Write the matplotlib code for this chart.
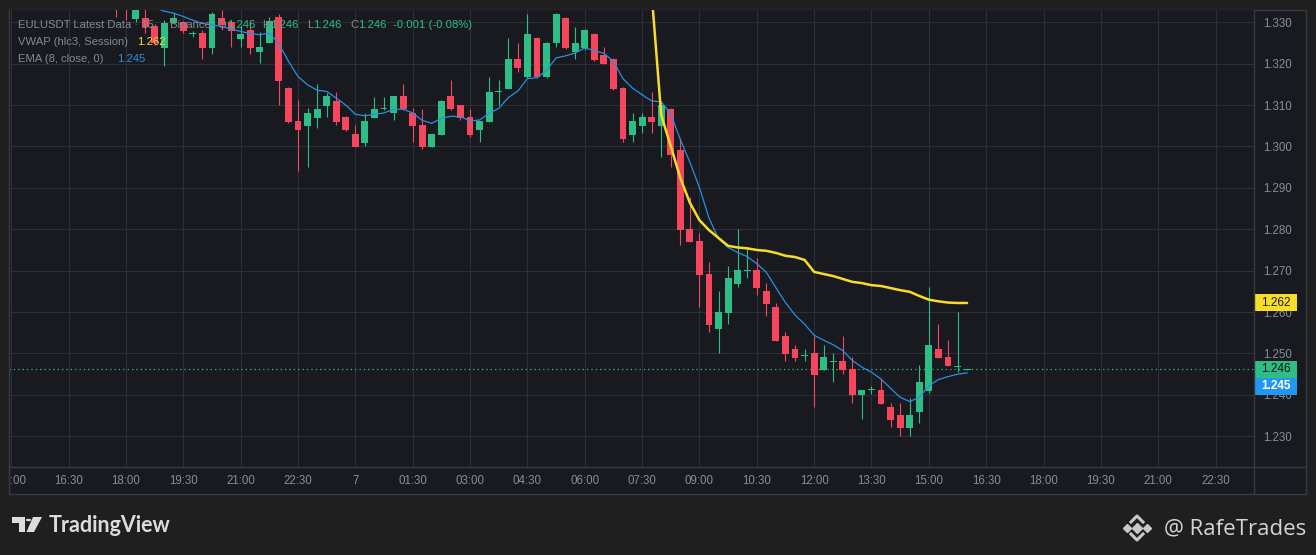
import matplotlib
matplotlib.use("Agg")
import matplotlib.pyplot as plt
import numpy as np
from matplotlib.patches import Rectangle, Polygon, Circle
from matplotlib.lines import Line2D
from matplotlib.transforms import blended_transform_factory

plt.rcParams['font.family'] = ['Liberation Sans', 'DejaVu Sans']

# 15 min candles, index 0 = 15:00 of the previous day
first_t = 11
opens = [1.3345, 1.3350, 1.3308, 1.3310, 1.3291, 1.3238, 1.3298, 1.3301, 1.3272, 1.3274,
         1.3238, 1.3310, 1.3301, 1.3260, 1.3281, 1.3228, 1.3250, 1.3313, 1.3141, 1.3062,
         1.3050, 1.3069, 1.3098, 1.3110, 1.3071, 1.3030, 1.3009, 1.3069, 1.3090, 1.3081,
         1.3122, 1.3081, 1.3052, 1.2999, 1.3028, 1.3122, 1.3100, 1.3071, 1.3040, 1.3059,
         1.3131, 1.3139, 1.3211, 1.3168, 1.3262, 1.3168, 1.3250, 1.3310, 1.3228, 1.3238,
         1.3272, 1.3221, 1.3211, 1.3141, 1.3028, 1.3050, 1.3071, 1.3050, 1.3091, 1.2991,
         1.2801, 1.2772, 1.2692, 1.2559, 1.2598, 1.2667, 1.2700, 1.2701, 1.2651, 1.2612,
         1.2542, 1.2511, 1.2493, 1.2501, 1.2459, 1.2480, 1.2481, 1.2462, 1.2400, 1.2411,
         1.2412, 1.2371, 1.2351, 1.2319, 1.2359, 1.2409, 1.2511, 1.2491, 1.2468, 1.2460]
highs = [1.3355, 1.3360, 1.3345, 1.3335, 1.3296, 1.3305, 1.3322, 1.3303, 1.3279, 1.3281,
         1.3325, 1.3330, 1.3306, 1.3293, 1.3306, 1.3277, 1.3313, 1.3320, 1.3143, 1.3112,
         1.3093, 1.3151, 1.3129, 1.3132, 1.3073, 1.3052, 1.3081, 1.3120, 1.3120, 1.3122,
         1.3151, 1.3093, 1.3091, 1.3030, 1.3112, 1.3161, 1.3100, 1.3091, 1.3062, 1.3168,
         1.3161, 1.3262, 1.3250, 1.3320, 1.3265, 1.3252, 1.3322, 1.3312, 1.3289, 1.3285,
         1.3274, 1.3240, 1.3213, 1.3143, 1.3081, 1.3081, 1.3132, 1.3110, 1.3093, 1.3021,
         1.2878, 1.2791, 1.2721, 1.2651, 1.2711, 1.2801, 1.2754, 1.2730, 1.2670, 1.2622,
         1.2552, 1.2520, 1.2511, 1.2542, 1.2520, 1.2501, 1.2542, 1.2491, 1.2412, 1.2421,
         1.2441, 1.2380, 1.2380, 1.2392, 1.2472, 1.2660, 1.2571, 1.2533, 1.2600, 1.2462]
lows = [1.3313, 1.3306, 1.3300, 1.3274, 1.3245, 1.3194, 1.3296, 1.3274, 1.3265, 1.3211,
        1.3223, 1.3281, 1.3240, 1.3240, 1.3223, 1.3202, 1.3250, 1.3100, 1.3057, 1.2941,
        1.2951, 1.3045, 1.3071, 1.3052, 1.3038, 1.2999, 1.3001, 1.3069, 1.3088, 1.3064,
        1.3089, 1.3011, 1.2994, 1.2999, 1.3028, 1.3089, 1.3064, 1.3023, 1.3011, 1.3059,
        1.3100, 1.3139, 1.3180, 1.3165, 1.3165, 1.3166, 1.3240, 1.3236, 1.3211, 1.3233,
        1.3207, 1.3199, 1.3137, 1.3011, 1.3011, 1.3033, 1.3033, 1.2975, 1.2951, 1.2762,
        1.2769, 1.2612, 1.2552, 1.2501, 1.2571, 1.2660, 1.2682, 1.2641, 1.2591, 1.2530,
        1.2481, 1.2481, 1.2481, 1.2371, 1.2459, 1.2431, 1.2450, 1.2380, 1.2342, 1.2402,
        1.2378, 1.2322, 1.2300, 1.2300, 1.2332, 1.2404, 1.2489, 1.2469, 1.2455, 1.2460]
closes = [1.3338, 1.3340, 1.3338, 1.3289, 1.3250, 1.3298, 1.3310, 1.3279, 1.3274, 1.3238,
          1.3320, 1.3293, 1.3279, 1.3272, 1.3238, 1.3240, 1.3304, 1.3158, 1.3059, 1.3040,
          1.3081, 1.3091, 1.3122, 1.3059, 1.3040, 1.2999, 1.3062, 1.3091, 1.3091, 1.3122,
          1.3091, 1.3050, 1.2999, 1.3030, 1.3110, 1.3091, 1.3069, 1.3028, 1.3062, 1.3132,
          1.3132, 1.3211, 1.3190, 1.3272, 1.3168, 1.3250, 1.3320, 1.3238, 1.3250, 1.3281,
          1.3209, 1.3199, 1.3139, 1.3018, 1.3062, 1.3071, 1.3059, 1.3100, 1.2979, 1.2798,
          1.2769, 1.2689, 1.2569, 1.2600, 1.2682, 1.2701, 1.2701, 1.2658, 1.2620, 1.2530,
          1.2499, 1.2489, 1.2494, 1.2448, 1.2491, 1.2481, 1.2459, 1.2400, 1.2412, 1.2412,
          1.2378, 1.2339, 1.2319, 1.2351, 1.2431, 1.2520, 1.2489, 1.2469, 1.2469, 1.2462]

ema_first_t = 15
ema = [1.3335, 1.3327, 1.3322, 1.3314, 1.3305, 1.3297, 1.3294, 1.3290, 1.3284, 1.3278,
       1.3273, 1.3270, 1.3274, 1.3248, 1.3206, 1.3169, 1.3149, 1.3136, 1.3133, 1.3117,
       1.3100, 1.3078, 1.3074, 1.3078, 1.3081, 1.3090, 1.3090, 1.3081, 1.3063, 1.3056,
       1.3068, 1.3073, 1.3072, 1.3062, 1.3064, 1.3080, 1.3092, 1.3118, 1.3134, 1.3164,
       1.3166, 1.3184, 1.3214, 1.3219, 1.3226, 1.3238, 1.3232, 1.3225, 1.3206, 1.3164,
       1.3141, 1.3125, 1.3110, 1.3108, 1.3079, 1.3017, 1.2962, 1.2901, 1.2827, 1.2777,
       1.2756, 1.2744, 1.2734, 1.2717, 1.2696, 1.2659, 1.2623, 1.2593, 1.2571, 1.2544,
       1.2532, 1.2521, 1.2507, 1.2483, 1.2467, 1.2455, 1.2438, 1.2416, 1.2394, 1.2384,
       1.2394, 1.2422, 1.2437, 1.2444, 1.2450, 1.2453]

vwap_first_t = 67
vwap = [1.3370, 1.3076, 1.3001, 1.2924, 1.2864, 1.2822, 1.2798, 1.2779, 1.2760, 1.2756,
        1.2754, 1.2750, 1.2748, 1.2743, 1.2736, 1.2733, 1.2726, 1.2697, 1.2692, 1.2687,
        1.2680, 1.2673, 1.2670, 1.2665, 1.2663, 1.2658, 1.2653, 1.2649, 1.2639, 1.2630,
        1.2626, 1.2623, 1.2622, 1.2622]

time_labels = ["15:00", "16:30", "18:00", "19:30", "21:00", "22:30", "7", "01:30", "03:00",
               "04:30", "06:00", "07:30", "09:00", "10:30", "12:00", "13:30", "15:00",
               "16:30", "18:00", "19:30", "21:00", "22:30"]
price_ticks = [1.23, 1.24, 1.25, 1.26, 1.27, 1.28, 1.29, 1.30, 1.31, 1.32, 1.33]

OUTER = '#1f1f1f'
PANEL = '#181a20'
GRID = '#2b2f36'
BORDER = '#363a41'
TEXT = '#848e9c'
GREEN = '#2ebd85'
RED = '#f6465d'
BLUE = '#2a8fe3'
YELLOW = '#f7dc2a'

W, H = 1316, 555
fig = plt.figure(figsize=(W / 100, H / 100), dpi=100, facecolor=OUTER)


def fx(px):
    return px / W


def fy(py):
    return 1 - py / H


fig.patches.append(Rectangle((fx(9), fy(494)), fx(1306) - fx(9), fy(10) - fy(494),
                             transform=fig.transFigure, fc=PANEL, ec=BORDER, lw=1, zorder=-1))

ax = fig.add_axes([fx(9), fy(467), fx(1254) - fx(9), fy(10) - fy(467)])
ax.set_facecolor(PANEL)
for s in ax.spines.values():
    s.set_visible(False)

ts = np.arange(first_t, first_t + len(opens))
o = np.array(opens)
c = np.array(closes)
cols = np.where(c >= o, GREEN, RED)
ax.vlines(ts, lows, highs, colors=cols, lw=0.8, zorder=2)
ax.bar(ts, np.maximum(np.abs(c - o), 0.00026), bottom=np.minimum(o, c), width=0.72,
       color=cols, zorder=3)

ax.axhline(closes[-1], color=GREEN, lw=0.9, ls=(0, (1, 2.5)), zorder=1)

ax.plot(np.arange(ema_first_t, ema_first_t + len(ema)), ema, color=BLUE, lw=0.9, zorder=4)
ax.plot(np.arange(vwap_first_t, vwap_first_t + len(vwap)), vwap, color=YELLOW, lw=1.8,
        zorder=4, solid_capstyle='round')

ax.set_xlim(-0.235, 130.02)
ax.set_ylim(1.22258, 1.33297)
ax.set_xticks(np.arange(0, 6 * len(time_labels), 6))
ax.set_xticklabels(time_labels)
ax.set_yticks(price_ticks)
ax.set_yticklabels([f"{p:.3f}" for p in price_ticks])
ax.yaxis.tick_right()
ax.tick_params(axis='both', length=0, labelsize=8.3, labelcolor=TEXT)
ax.tick_params(axis='x', pad=5.8)
ax.tick_params(axis='y', pad=6.5)
ax.grid(True, color=GRID, lw=0.8)
ax.set_axisbelow(True)

# price tags on the right scale
tr = blended_transform_factory(ax.transAxes, ax.transData)
axw = 1245
box_h = 17 / 4140
tags = [(vwap[-1], YELLOW, '#1a1a1a'),
        (closes[-1], GREEN, '#111111'),
        (closes[-1] - box_h, '#2196f3', 'white')]
tag_vals = [vwap[-1], closes[-1], ema[-1]]
for (yc, fc, tc), v in zip(tags, tag_vals):
    ax.add_patch(Rectangle((1 + 1 / axw, yc - box_h / 2), 42 / axw, box_h, transform=tr,
                           fc=fc, ec='none', clip_on=False, zorder=6))
    ax.text(1 + 22 / axw, yc, f"{v:.3f}", transform=tr, color=tc, fontsize=8.5,
            ha='center', va='center', clip_on=False, zorder=7,
            fontweight='bold' if tc == 'white' else 'normal')

# separators and left cover
fig.add_artist(Line2D([fx(1254), fx(1254)], [fy(10), fy(494)], transform=fig.transFigure,
                      color=BORDER, lw=1, zorder=11))
fig.add_artist(Line2D([fx(9), fx(1306)], [fy(467), fy(467)], transform=fig.transFigure,
                      color=BORDER, lw=1, zorder=11))
fig.patches.append(Rectangle((0, 0), fx(8.5), 1, transform=fig.transFigure, fc=OUTER,
                             ec='none', zorder=10))
fig.add_artist(Line2D([fx(9), fx(9)], [fy(10), fy(494)], transform=fig.transFigure,
                      color=BORDER, lw=1, zorder=11))

# legend rows
r = fig.canvas.get_renderer()


def row(x, y, parts):
    for s, col in parts:
        t = fig.text(fx(x), fy(y), s, color=col, fontsize=8.1, ha='left', va='center', zorder=20)
        x += t.get_window_extent(r).width


LG = '#868993'
row(18, 25, [("EULUSDT Latest Data · 15  ·  Binance", LG)])
for x, letter in [(218, "O"), (262, "H"), (307, "L"), (350, "C")]:
    row(x, 25, [(letter, LG), (f"{closes[-1]:.3f}", GREEN)])
row(393, 25, [("-0.001 (-0.08%)", GREEN)])
row(18, 42, [("VWAP (hlc3, Session)", LG)])
row(137, 42, [(f"{vwap[-1]:.3f}", YELLOW)])
row(18, 59, [("EMA (8, close, 0)", LG)])
row(117, 59, [(f"{ema[-1]:.3f}", BLUE)])

# footer branding
LOGO = '#dcdcdc'
fig.patches.append(Polygon([(fx(12), fy(517)), (fx(25), fy(517)), (fx(25), fy(532)),
                            (fx(18.5), fy(532)), (fx(18.5), fy(523)), (fx(12), fy(523))],
                           closed=True, transform=fig.transFigure, fc=LOGO, ec='none'))
fig.patches.append(Circle((fx(28.5), fy(520)), 2.8 / W, transform=fig.transFigure,
                          fc=LOGO, ec='none'))
fig.patches.append(Polygon([(fx(33), fy(517)), (fx(42), fy(517)), (fx(34), fy(532)),
                            (fx(26.5), fy(532))], closed=True, transform=fig.transFigure,
                           fc=LOGO, ec='none'))
fig.text(fx(49), fy(525), "TradingView", color=LOGO, fontsize=15.5, fontweight='bold',
         family=['Lato', 'DejaVu Sans'], ha='left', va='center')

bx, by = 1137, 528
for dx, dy, sz in [(-10, 0, 4), (10, 0, 4), (0, 0, 5)]:
    fig.add_artist(Line2D([fx(bx + dx)], [fy(by + dy)], transform=fig.transFigure,
                          marker='D', markersize=sz, color='#c8c8c8', lw=0))
fig.add_artist(Line2D([fx(bx - 6), fx(bx), fx(bx + 6)], [fy(by - 6), fy(by - 12), fy(by - 6)],
                      transform=fig.transFigure, color='#c8c8c8', lw=2.2))
fig.add_artist(Line2D([fx(bx - 6), fx(bx), fx(bx + 6)], [fy(by + 6), fy(by + 12), fy(by + 6)],
                      transform=fig.transFigure, color='#c8c8c8', lw=2.2))
fig.text(fx(1306), fy(529), "@ RafeTrades", color='#d4d4d4', fontsize=16,
         family=['Open Sans', 'DejaVu Sans'], ha='right', va='center')

fig.savefig("out.png", dpi=100, facecolor=OUTER)
